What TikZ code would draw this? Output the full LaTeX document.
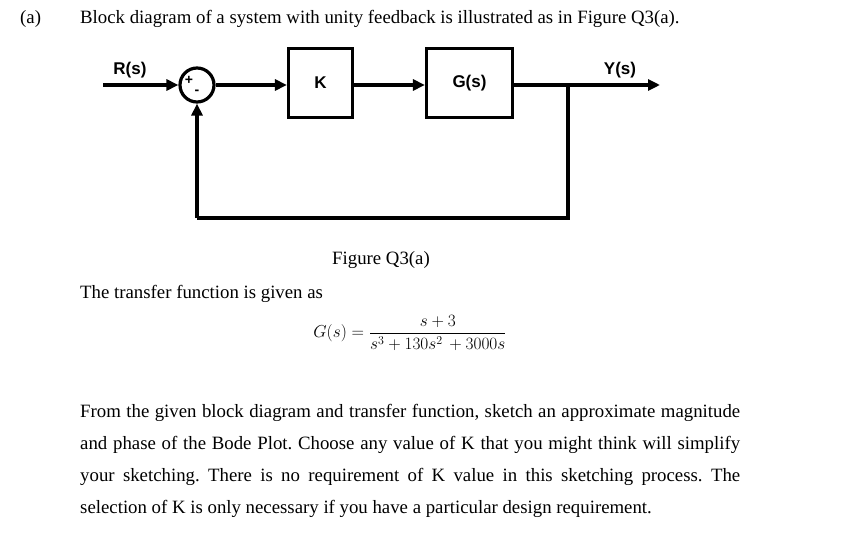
\documentclass[tikz,border=0pt]{standalone}
\usepackage{fontspec}
\setmainfont{Liberation Serif}
\newfontfamily\sansf{Liberation Sans}
\usetikzlibrary{arrows.meta}
\begin{document}
\frenchspacing
\begin{tikzpicture}[x=1pt,y=-1pt,
  blk/.style={draw,line width=3.2pt,font=\sansf\bfseries\fontsize{17}{20}\selectfont,inner sep=0},
  sig/.style={line width=3.2pt,-{Triangle[length=12pt,width=11pt]}},
  wire/.style={line width=3.2pt},
  lbl/.style={font=\sansf\bfseries\fontsize{17}{20}\selectfont},
  txt/.style={font=\fontsize{18.8}{22}\selectfont,anchor=base west,inner sep=0}]
\useasboundingbox (0,0) rectangle (853,556);
\node[txt] (pa) at (20,24) {(a)};
\node[txt] (t1) at (80,24) {Block diagram of a system with unity feedback is illustrated as in Figure Q3(a).};
% diagram
\node[draw,circle,line width=3.2pt,minimum size=34pt,inner sep=0] (sum) at (197,85) {};
\node[font=\sansf\bfseries\fontsize{14}{14}\selectfont] (plus) at (189,80) {+};
\node[font=\sansf\bfseries\fontsize{14}{14}\selectfont] (minus) at (197,92) {-};
\node[blk,minimum width=64pt,minimum height=69pt] (K) at (320.5,83) {K};
\node[blk,minimum width=86pt,minimum height=69pt] (G) at (469.5,83) {G(s)};
\coordinate (in) at (103,85);
\coordinate (out) at (660,85);
\coordinate (br) at (568,85);
\coordinate (c1) at (568,218);
\coordinate (c2) at (197,218);
\draw[sig] (in) -- (sum.west);
\draw[sig] (sum.east) -- (K.west |- sum);
\draw[sig] (K.east |- sum) -- (G.west |- sum);
\draw[wire] (G.east |- sum) -- (br);
\draw[sig] (br) -- (out);
\draw[wire] (br) -- (c1) -- (c2);
\draw[sig] (c2) -- (sum.south);
\node[lbl] (R) at (130,70) {R(s)};
\node[lbl] (Y) at (620,70) {Y(s)};
\node[txt,anchor=base] (cap) at (381,264) {Figure Q3(a)};
\node[txt] (t2) at (80,298) {The transfer function is given as};
\node[inner sep=0,font=\fontsize{18}{22}\selectfont] (eq) at (410,333) {$\displaystyle G(s)=\frac{s+3}{s^{3}+130s^{2}\,+3000s}$};
\node[txt] (p1) at (80,417) {\makebox[660pt][s]{From the given block diagram and transfer function, sketch an approximate magnitude}};
\node[txt] (p2) at (80,449) {\makebox[660pt][s]{and phase of the Bode Plot. Choose any value of K that you might think will simplify}};
\node[txt] (p3) at (80,481) {\makebox[660pt][s]{your sketching. There is no requirement of K value in this sketching process. The}};
\node[txt] (p4) at (80,513) {selection of K is only necessary if you have a particular design requirement.};
\end{tikzpicture}
\end{document}
